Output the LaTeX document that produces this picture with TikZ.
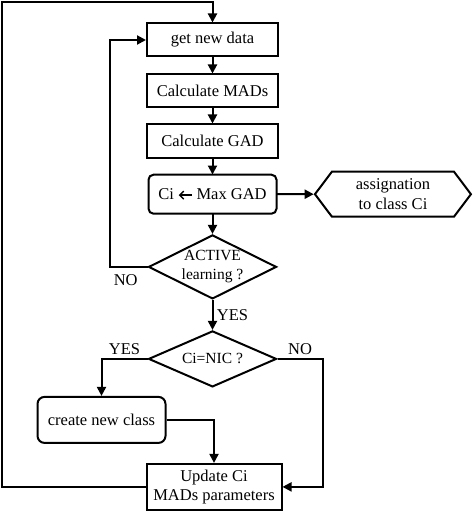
\documentclass[tikz,border=0pt]{standalone}
\usepackage{fontspec}
\setmainfont{Liberation Serif}
\usetikzlibrary{positioning,arrows.meta,shapes.geometric,shapes.symbols}

\newcommand{\assignarrow}{\tikz[baseline=-0.6ex]\draw[line width=1.4pt,{Straight Barb[length=4pt,width=8pt]}-] (0,0) -- (13pt,0);}

\begin{document}
\begin{tikzpicture}[x=1pt,y=1pt,line width=2pt,
    every node/.style={font=\fontsize{16.5}{19.5}\selectfont},
    box/.style={rectangle,draw,minimum width=131pt,minimum height=33pt,inner sep=0pt},
    roundbox/.style={box,rounded corners=5pt},
    decision/.style={diamond,draw,aspect=2,minimum width=128pt,inner sep=0pt,align=center,font=\fontsize{15.5}{19}\selectfont},
    output/.style={signal,signal to=east and west,signal pointer angle=106,draw,minimum width=156pt,minimum height=45pt,inner sep=0pt,align=center},
    arr/.style={-{Triangle[length=9pt,width=9pt]}}]
    \useasboundingbox (0,0) rectangle (474,-513);

    \node[box] (getdata) at (212.5,-40) {get new data};
    \node[box,below=16pt of getdata] (mads) {Calculate MADs};
    \node[box,below=15pt of mads] (gad) {Calculate GAD};
    \node[roundbox,minimum width=128pt,minimum height=39pt,below=16pt of gad] (maxgad) {Ci \assignarrow\ Max GAD};
    \node[output,right=37pt of maxgad] (assign) {assignation\\to class Ci};
    \node[decision,minimum height=64pt,below=20pt of maxgad] (active) {ACTIVE\\learning ?};
    \node[decision,aspect=2.3,minimum height=56pt,below=30pt of active] (nic) {Ci=NIC ?};
    \node[roundbox,rounded corners=7pt,minimum width=128pt,minimum height=46pt,below=8pt of nic.south,xshift=-111pt] (newclass) {create new class};
    \node[box,minimum width=135pt,minimum height=46pt,align=center,below=19pt of newclass.south,xshift=112.5pt] (update) {Update Ci\\MADs parameters};
    \coordinate (corner) at (2,-2);

    \draw[arr] (getdata) -- (mads);
    \draw[arr] (mads) -- (gad);
    \draw[arr] (gad) -- (maxgad);
    \draw[arr] (maxgad) -- (assign);
    \draw[arr] (maxgad) -- (active);
    \draw[arr] (active) -- (nic) node[right,midway] {YES};
    \draw[arr] (active.west) -- ++(-38,0) node[below right,yshift=-3pt] {NO} |- (getdata.west);
    \draw[arr] (nic.west) -| node[above,pos=.25] {YES} (newclass.north);
    \draw[arr] (nic.east) -- ++(45,0) node[above,midway] {NO} |- (update.east);
    \draw[arr] (newclass.east) -| (update.north);
    \draw[arr] (update.west) -| (corner) -| (getdata.north);

\end{tikzpicture}
\end{document}
